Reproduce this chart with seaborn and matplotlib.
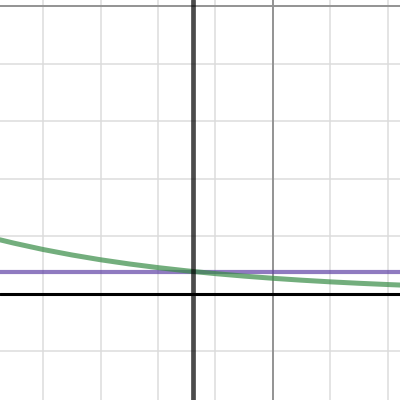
import numpy as np
import pandas as pd
import matplotlib
matplotlib.use("Agg")
import matplotlib.pyplot as plt
import seaborn as sns

# valores (unidades de la cuadricula)
curva_x = [0.25, 0.5, 1.0, 1.5, 2.0, 2.5, 3.0, 3.5, 4.0, 4.5, 5.0, 5.5, 6.0, 6.5, 7.0, 7.25]
curva_y = [0.936, 0.876, 0.767, 0.672, 0.588, 0.515, 0.451, 0.395, 0.346, 0.303,
           0.265, 0.232, 0.203, 0.178, 0.156, 0.146]
nivel_horizontal = 0.38
linea_vertical = 3.614

grid_x_menor = [1, 2, 3, 4, 6, 7]
grid_y_menor = [-1, 1, 2, 3, 4]
grid_x_mayor = [5]
grid_y_mayor = [5]

x_lim = (0.252, 7.209)
y_lim = (-1.855, 5.113)

sns.set_style("white")

fig = plt.figure(figsize=(4, 4), dpi=100)
ax = fig.add_axes([0, 0, 1, 1])

# cuadricula
for gx in grid_x_menor:
    ax.axvline(gx, color="#dcdcdc", linewidth=1.1, zorder=0)
for gy in grid_y_menor:
    ax.axhline(gy, color="#dcdcdc", linewidth=1.1, zorder=0)
for gx in grid_x_mayor:
    ax.axvline(gx, color="#939393", linewidth=1.4, zorder=1)
for gy in grid_y_mayor:
    ax.axhline(gy, color="#939393", linewidth=1.4, zorder=1)

# eje x
ax.axhline(0, color="black", linewidth=2.2, zorder=2)

# recta horizontal (morada)
ax.axhline(nivel_horizontal, color="#6042a6", alpha=0.7, linewidth=3.0, zorder=3)

# curva exponencial (verde)
df = pd.DataFrame({"x": curva_x, "y": curva_y})
sns.lineplot(data=df, x="x", y="y", ax=ax, color="#388c46", alpha=0.7,
             linewidth=3.6, zorder=4)

# recta vertical gruesa
ax.axvline(linea_vertical, color="black", alpha=0.7, linewidth=3.4, zorder=5)

ax.set_xlim(*x_lim)
ax.set_ylim(*y_lim)
ax.set_xlabel("")
ax.set_ylabel("")
ax.set_xticks([])
ax.set_yticks([])
for s in ax.spines.values():
    s.set_visible(False)

fig.savefig("out.png", dpi=100)
plt.close(fig)
